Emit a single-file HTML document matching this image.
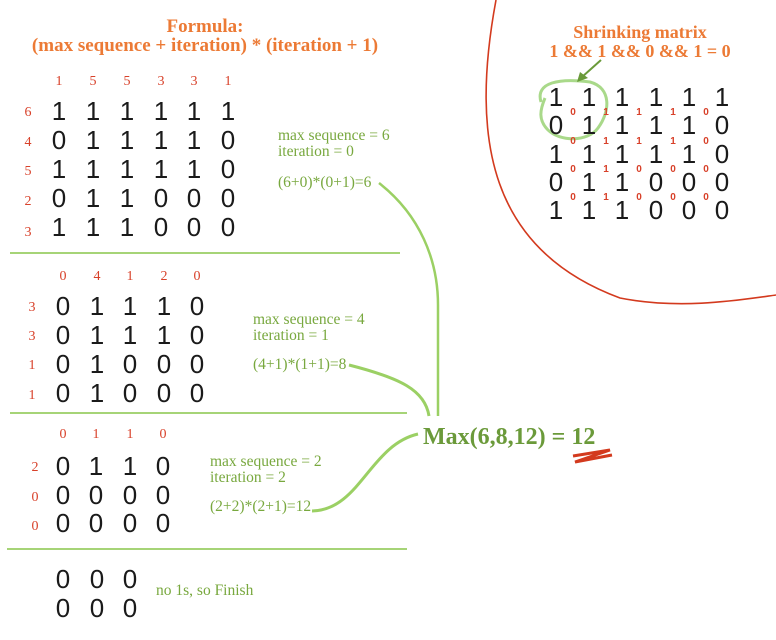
<!DOCTYPE html>
<html><head><meta charset="utf-8"><style>
body{margin:0;width:776px;height:640px;background:#fff;position:relative;overflow:hidden;font-family:"Liberation Sans",sans-serif}
.d{position:absolute;font-family:"Liberation Sans",sans-serif;font-size:26px;color:#1a1a1a;transform:translate(-50%,-50%);line-height:1}
.r{position:absolute;font-family:"Liberation Serif",serif;font-size:14px;color:#d8412a;transform:translate(-50%,-50%);line-height:1}
.s{position:absolute;font-family:"Liberation Sans",sans-serif;font-weight:bold;font-size:10px;color:#d8412a;transform:translate(-50%,-50%);line-height:1}
.g{position:absolute;font-family:"Liberation Serif",serif;font-size:15.5px;color:#78a83e;line-height:16px;white-space:nowrap}
.o{position:absolute;font-family:"Liberation Serif",serif;font-weight:bold;font-size:19px;color:#ec7a35;text-align:center;line-height:19px;white-space:nowrap}
svg{position:absolute;left:0;top:0}
</style></head><body>
<svg width="776" height="640">
<path d="M496,0 C470,140 490,250 620,298 C680,310 740,300 776,295" fill="none" stroke="#d33a1e" stroke-width="1.6"/>
<line x1="10" y1="253" x2="400" y2="253" stroke="#a6d477" stroke-width="2"/>
<line x1="10" y1="413" x2="407" y2="413" stroke="#a6d477" stroke-width="2"/>
<line x1="7" y1="549" x2="407" y2="549" stroke="#a6d477" stroke-width="2"/>
<path d="M379,183 C420,215 438,260 438,305 L438,416" fill="none" stroke="#9bd064" stroke-width="2.5"/>
<path d="M349,365 C400,378 425,390 429,416" fill="none" stroke="#9bd064" stroke-width="3"/>
<path d="M312,511 C360,510 370,445 418,434" fill="none" stroke="#9bd064" stroke-width="3"/>
<path d="M541,102 C535,82 560,78 590,82 C612,88 610,112 598,128 C588,142 560,142 548,130 C538,120 540,110 545,98" fill="none" stroke="#a9d98a" stroke-width="3"/>
<line x1="601" y1="60" x2="582" y2="77" stroke="#6a9a3a" stroke-width="2"/>
<polygon points="577,82 580,72 588,78" fill="#6a9a3a"/>
<path d="M573,456 L610,450 L575,462 L612,455" fill="none" stroke="#d33a1e" stroke-width="3"/>
</svg>
<div class="o" style="left:205px;top:17px;transform:translateX(-50%)">Formula:<br>(max sequence + iteration) * (iteration + 1)</div>
<div class="o" style="left:640px;top:23px;transform:translateX(-50%);font-size:18px">Shrinking matrix<br>1 &amp;&amp; 1 &amp;&amp; 0 &amp;&amp; 1 = 0</div>

<div class="g" style="left:278px;top:128px">max sequence = 6<br>iteration = 0</div>
<div class="g" style="left:278px;top:175px">(6+0)*(0+1)=6</div>
<div class="g" style="left:253px;top:312px">max sequence = 4<br>iteration = 1</div>
<div class="g" style="left:253px;top:357px">(4+1)*(1+1)=8</div>
<div class="g" style="left:210px;top:454px">max sequence = 2<br>iteration = 2</div>
<div class="g" style="left:210px;top:499px">(2+2)*(2+1)=12</div>
<div class="g" style="left:156px;top:583px">no 1s, so Finish</div>
<div class="g" style="left:423px;top:424px;font-size:24px;font-weight:bold;color:#6b9a3a;line-height:26px">Max(6,8,12) = 12</div>
<script>
function put(cls,x,y,t){var e=document.createElement('div');e.className=cls;e.style.left=x+'px';e.style.top=y+'px';e.textContent=t;document.body.appendChild(e);}
function mat(cx,ry,rows){rows.forEach(function(r,i){r.split('').forEach(function(c,j){put('d',cx[j],ry[i],c)})})}
var c1=[59,93,127,161,194,228];
[1,5,5,3,3,1].forEach(function(v,j){put('r',c1[j],82,v)});
[6,4,5,2,3].forEach(function(v,i){put('r',28,[113,143,172,202,233][i],v)});
mat(c1,[111,140,169,198,227],["111111","011110","111110","011000","111000"]);
var c2=[63,97,130,164,197];
[0,4,1,2,0].forEach(function(v,j){put('r',c2[j],277,v)});
[3,3,1,1].forEach(function(v,i){put('r',32,[308,337,366,396][i],v)});
mat(c2,[306,335,364,393],["01110","01110","01000","01000"]);
var c3=[63,96,130,163];
[0,1,1,0].forEach(function(v,j){put('r',c3[j],435,v)});
[2,0,0].forEach(function(v,i){put('r',35,[468,498,527][i],v)});
mat(c3,[466,495,523],["0110","0000","0000"]);
mat([63,97,130],[579,608],["000","000"]);
var c5=[556,589,622,656,689,722];
mat(c5,[97,125,154,182,210],["111111","011110","111110","011000","111000"]);
var sm=["01110","01110","01000","01000"];
sm.forEach(function(r,i){r.split('').forEach(function(c,j){put('s',c5[j]+17,[113,142,170,198][i],c)})});
</script>
</body></html>
